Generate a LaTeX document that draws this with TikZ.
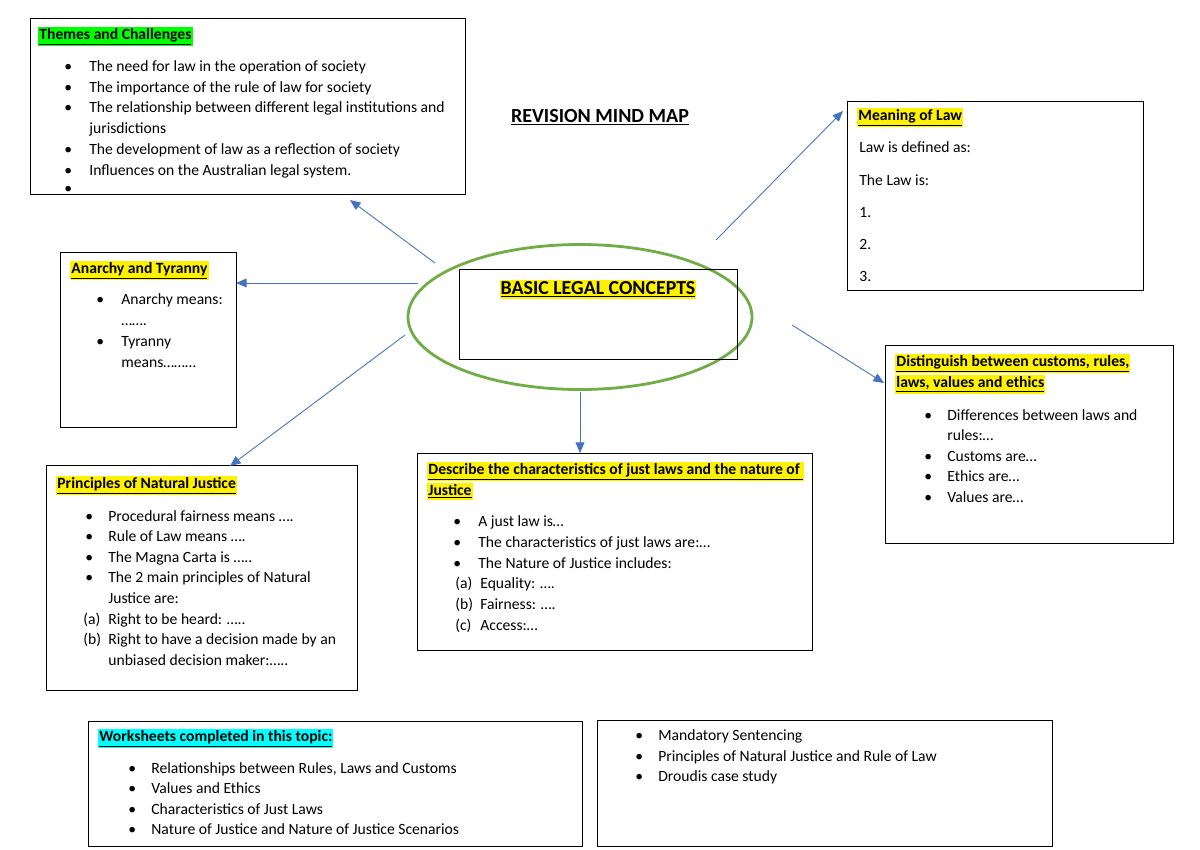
\documentclass[tikz,border=0pt]{standalone}
\usepackage{fontspec}
\setmainfont{Carlito}
\usetikzlibrary{arrows.meta,shapes.geometric}
\definecolor{arr}{HTML}{4472C4}
\definecolor{ell}{HTML}{70AD47}
\definecolor{aqua}{HTML}{00FFFF}
\tikzset{box/.style={draw,line width=0.6pt},
 conn/.style={arr,line width=0.5pt,-{Triangle[length=6pt,width=5pt]}},
 txt/.style={anchor=base west,inner sep=0pt,font=\fontsize{8.9}{10}\selectfont}}
\newcommand{\hl}[2]{{\setlength{\fboxsep}{0.6pt}\colorbox{#1}{\textbf{\underline{#2}}}}}
\newcommand{\bl}[4]{\node[txt] at (#1,#3) {\textbullet}; \node[txt] at (#2,#3) {#4};}
\newcommand{\tl}[3]{\node[txt] at (#1,#2) {#3};}
\begin{document}
\begin{tikzpicture}[x=0.02cm,y=-0.02cm]
\useasboundingbox (0,0) rectangle (1200,849);
\fill[white] (0,0) rectangle (1200,849);
% boxes
\node[box,minimum width=435*0.02cm,minimum height=176*0.02cm,anchor=north west] (themes) at (30,18) {};
\node[box,minimum width=176*0.02cm,minimum height=175*0.02cm,anchor=north west] (anarchy) at (60,252) {};
\node[box,minimum width=311*0.02cm,minimum height=225*0.02cm,anchor=north west] (natural) at (46,465) {};
\node[box,minimum width=395*0.02cm,minimum height=197*0.02cm,anchor=north west] (just) at (417,453) {};
\node[box,minimum width=288*0.02cm,minimum height=198*0.02cm,anchor=north west] (dist) at (885,345) {};
\node[box,minimum width=296*0.02cm,minimum height=189*0.02cm,anchor=north west] (meaning) at (847,101) {};
\node[box,minimum width=494*0.02cm,minimum height=125*0.02cm,anchor=north west] (works) at (88,721) {};
\node[box,minimum width=455*0.02cm,minimum height=126*0.02cm,anchor=north west] (extra) at (597,720) {};
\node[draw=ell,line width=1.6pt,ellipse,inner sep=0pt,minimum width=344*0.02cm,minimum height=145*0.02cm] (ell) at (580,317) {};
\node[box,minimum width=278*0.02cm,minimum height=90*0.02cm,anchor=north west] (core) at (459,269) {};
\node[txt,anchor=base,font=\fontsize{11.3}{13}\selectfont] (coretxt) at (598,294) {\hl{yellow}{BASIC LEGAL CONCEPTS}};
\node[txt,anchor=base,font=\fontsize{11.4}{13}\selectfont] (title) at (600,122) {\textbf{\underline{REVISION MIND MAP}}};
% arrows
\coordinate (a1) at (435,263); \coordinate (a2) at (418,283); \coordinate (a3) at (405,335);
\coordinate (a4) at (580,392); \coordinate (a5) at (792,325); \coordinate (a6) at (716,240);
\coordinate (b1) at (350,200); \coordinate (b2) at (236,283); \coordinate (b3) at (230,466);
\coordinate (b4) at (580,453); \coordinate (b5) at (884,383); \coordinate (b6) at (843,111);
\draw[conn] (a1)--(b1); \draw[conn] (a2)--(b2); \draw[conn] (a3)--(b3);
\draw[conn] (a4)--(b4); \draw[conn] (a5)--(b5); \draw[conn] (a6)--(b6);
% themes
\tl{38}{39}{\hl{green}{Themes and Challenges}}
\bl{64}{89}{71}{The need for law in the operation of society}
\bl{64}{89}{92}{The importance of the rule of law for society}
\bl{64}{89}{112}{The relationship between different legal institutions and}
\tl{89}{133}{jurisdictions}
\bl{64}{89}{154}{The development of law as a reflection of society}
\bl{64}{89}{175}{Influences on the Australian legal system.}
\bl{64}{89}{193}{}
% anarchy
\tl{70}{273}{\hl{yellow}{Anarchy and Tyranny}}
\bl{96}{121}{304}{Anarchy means:}
\tl{121}{325}{…….}
\bl{96}{121}{346}{Tyranny}
\tl{121}{367}{means………}
% natural justice
\tl{56}{488}{\hl{yellow}{Principles of Natural Justice}}
\bl{85}{108}{521}{Procedural fairness means ….}
\bl{85}{108}{541}{Rule of Law means ….}
\bl{85}{108}{562}{The Magna Carta is …..}
\bl{85}{108}{582}{The 2 main principles of Natural}
\tl{108}{603}{Justice are:}
\tl{83}{624}{(a)}\tl{108}{624}{Right to be heard: …..}
\tl{83}{644}{(b)}\tl{108}{644}{Right to have a decision made by an}
\tl{108}{665}{unbiased decision maker:…..}
% just laws
\tl{427}{474}{\hl{yellow}{Describe the characteristics of just laws and the nature of }}
\tl{427}{495}{\hl{yellow}{Justice}}
\bl{453}{478}{526}{A just law is…}
\bl{453}{478}{547}{The characteristics of just laws are:…}
\bl{453}{478}{568}{The Nature of Justice includes:}
\tl{455}{588}{(a)}\tl{480}{588}{Equality: ….}
\tl{455}{609}{(b)}\tl{480}{609}{Fairness: ….}
\tl{455}{630}{(c)}\tl{480}{630}{Access:…}
% distinguish
\tl{895}{366}{\hl{yellow}{Distinguish between customs, rules,}}
\tl{895}{387}{\hl{yellow}{laws, values and ethics}}
\bl{924}{947}{420}{Differences between laws and}
\tl{947}{440}{rules:…}
\bl{924}{947}{461}{Customs are…}
\bl{924}{947}{481}{Ethics are…}
\bl{924}{947}{502}{Values are…}
% meaning
\tl{857}{120}{\hl{yellow}{Meaning of Law}}
\tl{859}{152}{Law is defined as:}
\tl{859}{185}{The Law is:}
\tl{859}{217}{1.}
\tl{859}{249}{2.}
\tl{859}{281}{3.}
% worksheets
\tl{98}{741}{\hl{aqua}{Worksheets completed in this topic:}}
\bl{128}{151}{773}{Relationships between Rules, Laws and Customs}
\bl{128}{151}{793}{Values and Ethics}
\bl{128}{151}{814}{Characteristics of Just Laws}
\bl{128}{151}{834}{Nature of Justice and Nature of Justice Scenarios}
% extra
\bl{635}{658}{740}{Mandatory Sentencing}
\bl{635}{658}{761}{Principles of Natural Justice and Rule of Law}
\bl{635}{658}{781}{Droudis case study}
\end{tikzpicture}
\end{document}
